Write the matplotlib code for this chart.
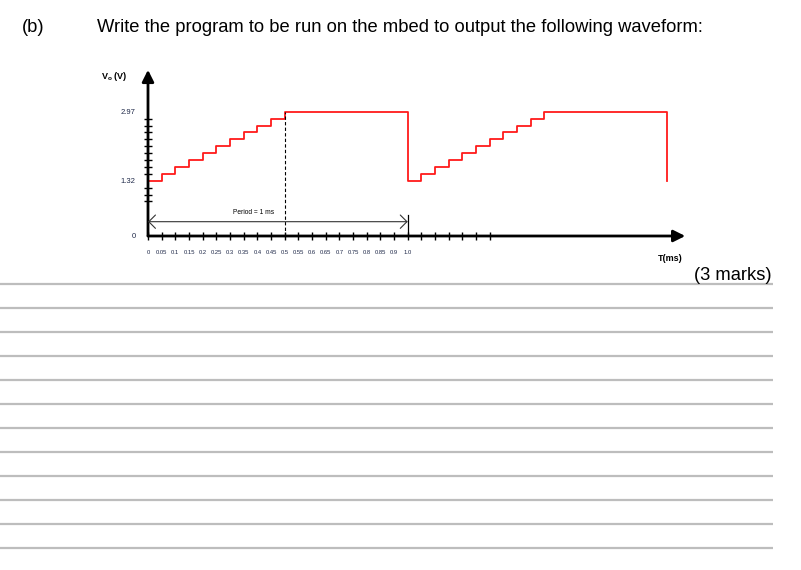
import matplotlib
matplotlib.use("Agg")
import matplotlib.pyplot as plt

plt.rcParams["font.family"] = ["Liberation Sans", "DejaVu Sans"]
plt.rcParams["mathtext.fontset"] = "custom"
plt.rcParams["mathtext.rm"] = "Liberation Sans"
plt.rcParams["mathtext.bf"] = "Liberation Sans:bold"

# x axis works in tick slots: the sketch skips 0.95, so "1.0" sits on slot 19
x_labels = ["0", "0.05", "0.1", "0.15", "0.2", "0.25", "0.3", "0.35", "0.4", "0.45",
            "0.5", "0.55", "0.6", "0.65", "0.7", "0.75", "0.8", "0.85", "0.9", "1.0"]
x_slots = list(range(len(x_labels)))
extra_slots = [20, 21, 22, 23, 24, 25]

# staircase levels in volts, one per slot, then held high
levels = [1.32, 1.485, 1.65, 1.815, 1.98, 2.145, 2.31, 2.475, 2.64, 2.805, 2.97]
step_slots = [0, 1, 2, 3, 4, 5, 6, 7, 8, 9, 10]
period = 19
n_periods = 2

y_major = [0, 1.32, 2.97]
y_major_labels = ["0", "1.32", "2.97"]
y_minor = [0.825, 0.99, 1.155] + levels

# waveform
t, v = [], []
for p in range(n_periods):
    t += [s + p * period for s in step_slots]
    v += levels
t.append(n_periods * period)
v.append(levels[0])

W, H = 801, 570
fig = plt.figure(figsize=(W / 100, H / 100), dpi=100)

# page background: header text and answer lines, in pixel coords
bg = fig.add_axes([0, 0, 1, 1])
bg.set_xlim(0, W)
bg.set_ylim(H, 0)
bg.axis("off")
bg.text(22, 32.3, "(b)", fontsize=13.2, va="baseline")
bg.text(97, 32.3, "Write the program to be run on the mbed to output the following waveform:",
        fontsize=13.2, va="baseline")
bg.text(772, 280, "(3 marks)", fontsize=13.2, va="baseline", ha="right")
for k in range(12):
    y = 284.3 + 23.95 * k
    bg.plot([0, 773], [y, y], color="#bdbdbd", lw=1.6, solid_capstyle="butt")

# chart axes: origin at px (148, 236), 13.67 px per slot, 41.85 px per volt
px_slot, px_volt = 13.67, 41.85
xmax, ymax = 40, 4.0
ax = fig.add_axes([148 / W, (H - 236) / H, xmax * px_slot / W, ymax * px_volt / H])
ax.set_xlim(0, xmax)
ax.set_ylim(0, ymax)
ax.patch.set_alpha(0)
for s in ax.spines.values():
    s.set_visible(False)

ax.annotate("", xy=(39.3, 0), xytext=(0, 0),
            arrowprops=dict(arrowstyle="-|>,head_length=0.7,head_width=0.35", lw=2,
                            color="black", shrinkA=0, shrinkB=0, mutation_scale=10))
ax.annotate("", xy=(0, 3.97), xytext=(0, 0),
            arrowprops=dict(arrowstyle="-|>,head_length=0.7,head_width=0.35", lw=2,
                            color="black", shrinkA=0, shrinkB=0, mutation_scale=10))

ax.set_xticks(x_slots, x_labels)
ax.set_xticks(extra_slots, minor=True)
ax.tick_params(axis="x", which="both", direction="inout", length=6, width=1,
               labelsize=4.2, pad=7, labelcolor="#1e2848")
ax.set_yticks(y_major, y_major_labels)
ax.set_yticks(y_minor, minor=True)
ax.tick_params(axis="y", which="major", length=0, labelsize=5.5, pad=9,
               labelcolor="#1e2848")
ax.tick_params(axis="y", which="minor", direction="inout", length=6, width=1)

ax.step(t, v, where="post", color="#ff1a1a", lw=1.3)

# half period marker
ax.plot([10, 10], [0, levels[-1]], color="black", lw=0.8, ls=(0, (3, 2)))

# period arrow
ax.annotate("", xy=(0, 0.342), xytext=(period, 0.342),
            arrowprops=dict(arrowstyle="<->,head_length=0.6,head_width=0.6", lw=0.8,
                            color="#333333", shrinkA=0, shrinkB=0, mutation_scale=8))
ax.plot([period, period], [0, 0.5], color="black", lw=0.9)
ax.text(7.7, 0.57, "Period = 1 ms", fontsize=4.8, ha="center", va="center")

ax.text(-2.5, 3.8, r"$\mathbf{V_o}$ (V)", fontsize=6.5, fontweight="bold",
        ha="center", va="center")
ax.text(38.2, -0.53, "T(ms)", fontsize=6.5, fontweight="bold", ha="center", va="center")

fig.savefig("out.png", dpi=100)
